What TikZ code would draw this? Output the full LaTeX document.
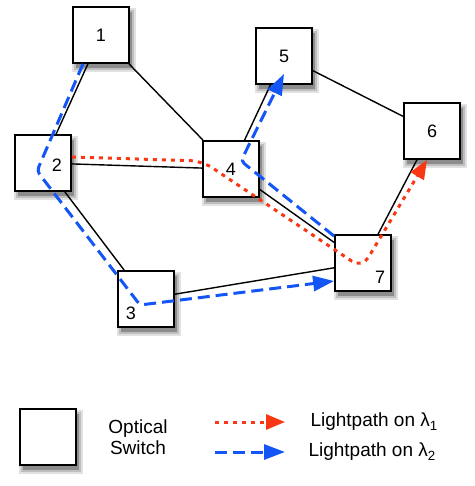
\documentclass[tikz,border=0pt]{standalone}
\usepackage{fontspec}
\setmainfont{Liberation Sans}
\usetikzlibrary{arrows.meta}
\definecolor{lightred}{RGB}{250,55,20}
\definecolor{lightblue}{RGB}{20,85,245}
\definecolor{shadeone}{RGB}{225,225,225}
\definecolor{shadetwo}{RGB}{190,190,190}
\definecolor{shadethree}{RGB}{140,140,140}
\tikzstyle{switch} = [draw, rectangle, line width=1.8pt, fill=white, minimum size=56pt, inner sep=0pt]
\tikzstyle{link} = [draw, line width=1.4pt]
\tikzstyle{lambdaone} = [draw, lightred, line width=3pt, dash pattern=on 4pt off 5pt, rounded corners=12pt, -{Triangle[length=19pt,width=15pt]}]
\tikzstyle{lambdatwo} = [draw, lightblue, line width=3pt, dash pattern=on 12pt off 6pt, rounded corners=4pt, -{Triangle[length=21pt,width=15pt]}]
\tikzstyle{keytext} = [font=\fontsize{19}{21}\selectfont]

\begin{document}
\begin{tikzpicture}[x=1pt, y=-1pt, font=\fontsize{18}{21}\selectfont]
        \useasboundingbox (0,0) rectangle (474,486);
        % centres of the switches
        \coordinate (c1) at (101,35);
        \coordinate (c2) at (43,163);
        \coordinate (c3) at (146,299);
        \coordinate (c4) at (231,169);
        \coordinate (c5) at (284,56);
        \coordinate (c6) at (432,131);
        \coordinate (c7) at (363,263);
        \coordinate (ckey) at (48,437);
        % soft shadows
        \foreach \c in {c1,c2,c3,c4,c5,c6,c7,ckey} {
            \fill[shadeone] ([shift={(-29pt,-37pt)}]\c) rectangle ([shift={(35pt,27pt)}]\c);
            \fill[shadetwo] ([shift={(-27pt,-35pt)}]\c) rectangle ([shift={(33pt,25pt)}]\c);
            \fill[shadethree] ([shift={(-25pt,-33pt)}]\c) rectangle ([shift={(31pt,23pt)}]\c);
        }
        % switches
        \node[switch] (s1) at (c1) {1};
        \node[switch, label={[xshift=14pt, yshift=-2pt]center:2}] (s2) at (c2) {};
        \node[switch, label={[xshift=-15pt, yshift=-14pt]center:3}] (s3) at (c3) {};
        \node[switch] (s4) at (c4) {4};
        \node[switch] (s5) at (c5) {5};
        \node[switch] (s6) at (c6) {6};
        \node[switch, label={[xshift=17pt, yshift=-14pt]center:7}] (s7) at (c7) {};
        \node[switch] (key) at (ckey) {};
        % fibre links
        \path[link] (s1) -- (s2);
        \path[link] (s1) -- (s4);
        \path[link] (s2) -- (s4);
        \path[link] (s2) -- (s3);
        \path[link] (s3) -- (s7);
        \path[link] (s4) -- (s5);
        \path[link] (s4) -- (s7);
        \path[link] (s5) -- (s6);
        \path[link] (s6) -- (s7);
        % lightpaths
        \path[lambdaone] ([yshift=6pt]s2.east) -- ([yshift=8pt]s4.west) -- ([shift={(-1pt,-5pt)}]s7.center) -- ([xshift=-5pt]s6.south);
        \path[lambdatwo] ([xshift=-18pt]s1.south) -- ([shift={(-6pt,-8pt)}]s2.center) -- ([shift={(-6pt,-6pt)}]s3.center) -- ([yshift=-18pt]s7.west);
        \path[lambdatwo] ([yshift=-2pt]s7.north west) -- ([shift={(10pt,8pt)}]s4.center) -- ([yshift=11pt]s5.south);
        % legend
        \node[keytext, align=center] (keytext) at (138,437) {Optical\\Switch};
        \coordinate (onestart) at (215,422);
        \coordinate (oneend) at (285,422);
        \coordinate (twostart) at (215,452);
        \coordinate (twoend) at (285,452);
        \path[lambdaone] (onestart) -- (oneend);
        \path[lambdatwo] (twostart) -- (twoend);
        \node[keytext, anchor=west] (onetext) at (307,422) {Lightpath on λ\textsubscript{1}};
        \node[keytext, anchor=west] (twotext) at (305,452) {Lightpath on λ\textsubscript{2}};
    \end{tikzpicture}
\end{document}
